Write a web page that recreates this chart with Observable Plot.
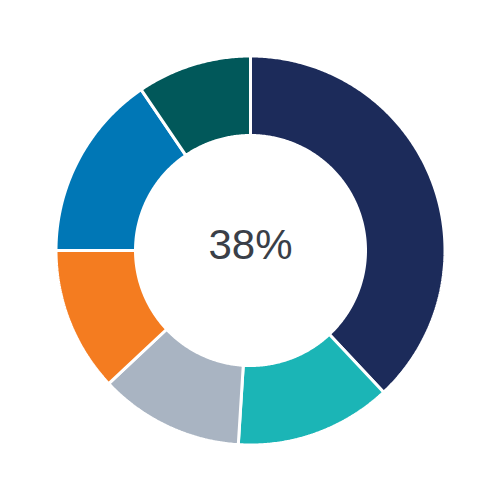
<!DOCTYPE html>
<html>
<head>
<meta charset="utf-8">
<script src="https://cdn.jsdelivr.net/npm/d3@7"></script>
<script src="https://cdn.jsdelivr.net/npm/@observablehq/plot@0.6"></script>
<style>
  html, body { margin: 0; padding: 0; background: #fff; }
  #chart { width: 500px; height: 500px; }
</style>
</head>
<body>
<div id="chart"></div>
<script>
const categories = ["Segment 1", "Segment 2", "Segment 3", "Segment 4", "Segment 5", "Segment 6"];
const values = [38, 13, 12, 12, 15.5, 9.5];
const colors = ["#1c2b5a", "#1bb5b6", "#a9b4c2", "#f47c20", "#0077b6", "#01585a"];
const centerLabel = "38%";

const outerR = 194.5, innerR = 115;
const total = d3.sum(values);
const pts = [];
let acc = 0;
categories.forEach((c, i) => {
  const a0 = acc / total * 2 * Math.PI;
  acc += values[i];
  const a1 = acc / total * 2 * Math.PI;
  const n = Math.max(8, Math.ceil((a1 - a0) / (Math.PI / 360)));
  for (let k = 0; k <= n; k++) {
    const a = a0 + (a1 - a0) * k / n;
    pts.push({cat: c, x: outerR * Math.sin(a), y: outerR * Math.cos(a)});
  }
  for (let k = n; k >= 0; k--) {
    const a = a0 + (a1 - a0) * k / n;
    pts.push({cat: c, x: innerR * Math.sin(a), y: innerR * Math.cos(a)});
  }
});

const chart = Plot.plot({
  width: 500,
  height: 500,
  margin: 0,
  marginLeft: 55.5, marginRight: 55.5, marginTop: 55.5, marginBottom: 55.5,
  x: {domain: [-outerR, outerR], axis: null},
  y: {domain: [-outerR, outerR], axis: null},
  color: {domain: categories, range: colors},
  style: {background: "#fff"},
  marks: [
    Plot.line(pts, {x: "x", y: "y", z: "cat", fill: "cat", stroke: "#fff", strokeWidth: 3, curve: "linear-closed", strokeLinejoin: "miter"}),
    Plot.text([centerLabel], {x: () => 0, y: () => 0, text: d => d, fontSize: 42, fill: "#3a3f48", fontFamily: "Liberation Sans, Arial, sans-serif", dy: -5})
  ]
});
document.getElementById("chart").appendChild(chart);
</script>
</body>
</html>
